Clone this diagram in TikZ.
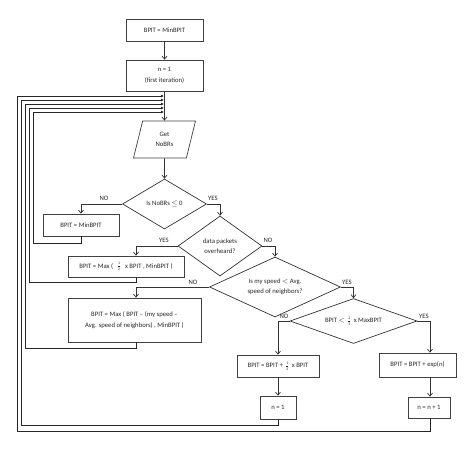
\documentclass[tikz,border=0pt]{standalone}
\usepackage{fontspec}
\setmainfont{Carlito}
\usetikzlibrary{arrows.meta,shapes.geometric}
\newcommand\myfr[2]{\hspace{3.5pt}$\vcenter{\offinterlineskip\fontsize{3.8}{4}\selectfont
  \halign{\hfil##\hfil\cr\vrule height 3.3pt depth 1.4pt width 0pt #1\cr
  \noalign{\kern0.3pt\hrule height0.3pt\kern0.3pt}
  \vrule height 3.6pt depth 1pt width 0pt #2\cr}}$\hspace{3.5pt}}
\begin{document}
\begin{tikzpicture}[x=1pt,y=-1pt,
  every node/.style={font=\fontsize{6.7}{10.5}\selectfont, text=black!85},
  box/.style={draw=black!75, line width=0.7pt, rectangle, inner sep=1pt, align=center},
  dia/.style={draw=black!80, line width=0.7pt, diamond, inner sep=0pt, align=center},
  arr/.style={draw=black!80, line width=0.7pt, -{Straight Barb[length=3pt,width=5pt]}},
  loopline/.style={draw=black!85, line width=0.7pt, -{Latex[length=3pt,width=3pt]}},
  lbl/.style={inner sep=0.5pt}
]
\useasboundingbox (0,0) rectangle (474,455);
% top boxes
\node[box, minimum width=77, minimum height=22] (b1) at (164.5,30) {BPIT = MinBPIT};
\node[box, minimum width=77, minimum height=31] (b2) at (164.5,75.5) {n = 1\\(first iteration)};
\node[draw=black!75, line width=0.7pt, trapezium, trapezium left angle=76, trapezium right angle=104,
  trapezium stretches=true, minimum width=62, minimum height=37, inner sep=0pt, align=center] (get) at (164.5,139.5) {Get\\NoBRs};
% diamonds
\node[dia, aspect=1.68, minimum width=84, minimum height=50] (d1) at (164.5,204) {Is NoBRs $\leq$ 0};
\node[dia, aspect=1.4, minimum width=84, minimum height=60] (d2) at (220,246) {data packets\\overheard?};
\node[dia, aspect=2.18, minimum width=131, minimum height=60, font=\fontsize{6.7}{10}\selectfont] (d3) at (275,287) {Is my speed $<$ Avg.\\speed of neighbors?};
\node[dia, aspect=2.8, minimum width=127, minimum height=45] (d4) at (353.5,321) {BPIT $<$\myfr{2}{3}x MaxBPIT};
% boxes
\node[box, minimum width=76, minimum height=22] (bmin) at (81,225) {BPIT = MinBPIT};
\node[box, minimum width=116, minimum height=21] (bhalf) at (126,266.5) {BPIT = Max ( \myfr{1}{2} x BPIT , MinBPIT )};
\node[box, minimum width=133, minimum height=44, font=\fontsize{6.7}{11}\selectfont] (bspeed) at (134.5,320) {BPIT = Max ( BPIT -- (my speed --\\Avg. speed of neighbors) , MinBPIT )};
\node[box, minimum width=82, minimum height=22] (b5) at (278,366) {BPIT = BPIT +\myfr{1}{3}x BPIT};
\node[box, minimum width=77, minimum height=24] (b6) at (417.5,365) {BPIT = BPIT + exp(n)};
\node[box, minimum width=36, minimum height=23] (n1) at (278,407.5) {n = 1};
\node[box, minimum width=42, minimum height=21] (n2) at (429,407.5) {n = n + 1};
% helper coordinates
\coordinate (xa) at (136,0);
\coordinate (c6) at (430,0);
% main flow
\draw[arr] (b1) -- (b2);
\draw[arr] (b2) -- (get);
\draw[arr] (get) -- (d1);
\draw[arr] (d1.west) -| (bmin.north);
\draw[arr] (d1.east) -| (d2.north);
\draw[arr] (d2.west) -| (bhalf.north -| xa);
\draw[arr] (d2.east) -| (d3.north);
\draw[arr] (d3.west) -| (bspeed.north -| xa);
\draw[arr] (d3.east) -| (d4.north);
\draw[arr] (d4.west) -| (b5.north);
\draw[arr] (d4.east) -| (b6.north -| c6);
\draw[arr] (b5) -- (n1);
\draw[arr] (b6.south -| c6) -- (n2.north -| c6);
% labels
\node[lbl] at (104,198.5) {NO};
\node[lbl] at (213,198.5) {YES};
\node[lbl] at (164,240.5) {YES};
\node[lbl] at (268,240.5) {NO};
\node[lbl] at (193,282.5) {NO};
\node[lbl] at (347,282.5) {YES};
\node[lbl] at (284,316) {NO};
\node[lbl] at (424,316) {YES};
% loop-back lines
\coordinate (k1) at (33,243);   \coordinate (e1) at (164,112);
\coordinate (k2) at (29,282);   \coordinate (e2) at (164,108);
\coordinate (k3) at (25,348);   \coordinate (e3) at (164,104);
\coordinate (k4) at (21,425);   \coordinate (e4) at (164,100);
\coordinate (k5) at (17,431);   \coordinate (e5) at (164,96);
\draw[loopline] (bmin.south) |- (k1) |- (e1);
\draw[loopline] (bhalf.south -| xa) |- (k2) |- (e2);
\draw[loopline] (bspeed.south -| xa) |- (k3) |- (e3);
\draw[loopline] (n1.south) |- (k4) |- (e4);
\draw[loopline] (n2.south -| c6) |- (k5) |- (e5);
\end{tikzpicture}
\end{document}
